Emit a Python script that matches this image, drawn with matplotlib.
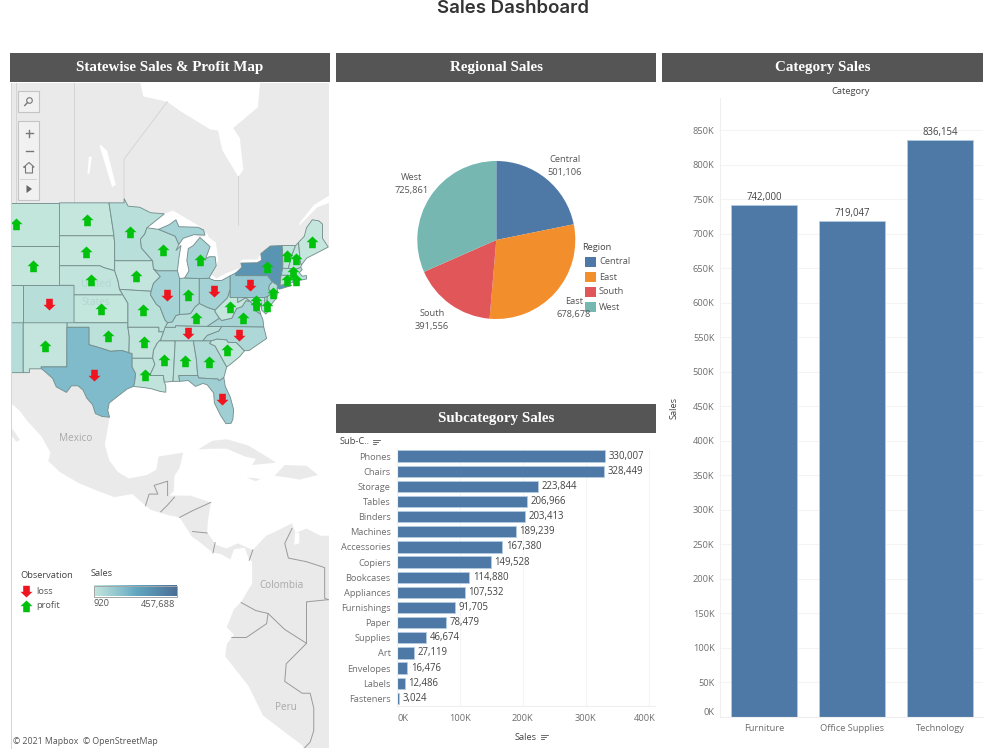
import numpy as np
import matplotlib
matplotlib.use('Agg')
import matplotlib.pyplot as plt
from matplotlib.colors import LinearSegmentedColormap
from matplotlib.patches import Rectangle, Polygon, Circle
from matplotlib.path import Path
from matplotlib.transforms import ScaledTranslation

plt.rcParams['font.family'] = ['Open Sans', 'DejaVu Sans']

# Datos de las barras y del pie
subcats = ['Phones', 'Chairs', 'Storage', 'Tables', 'Binders', 'Machines', 'Accessories', 'Copiers', 'Bookcases',
           'Appliances', 'Furnishings', 'Paper', 'Supplies', 'Art', 'Envelopes', 'Labels', 'Fasteners']
subcat_sales = [330007, 328449, 223844, 206966, 203413, 189239, 167380, 149528, 114880,
                107532, 91705, 78479, 46674, 27119, 16476, 12486, 3024]
categories = ['Furniture', 'Office Supplies', 'Technology']
category_sales = [742000, 719047, 836154]
regions = ['Central', 'East', 'South', 'West']
region_sales = [501106, 678678, 391556, 725861]
region_colors = ['#4e79a7', '#f28e2b', '#e15759', '#76b7b2']

# Ventas por estado, observacion y centro (lon, lat) de la flecha
state_sales = {'MT': 5589, 'ID': 4382, 'WY': 1603, 'UT': 11220, 'AZ': 35282, 'CO': 32108, 'NM': 4784, 'ND': 920,
               'SD': 1316, 'NE': 7465, 'KS': 2914, 'OK': 19683, 'TX': 170188, 'MN': 29863, 'IA': 4580, 'MO': 22205,
               'AR': 11678, 'LA': 9217, 'MS': 10771, 'AL': 19511, 'GA': 49096, 'FL': 89474, 'SC': 8482, 'NC': 55603,
               'TN': 30662, 'KY': 36592, 'VA': 70637, 'WV': 1210, 'OH': 78258, 'IN': 53555, 'IL': 80166, 'WI': 32115,
               'MI': 76270, 'MIU': 76270, 'PA': 116512, 'NY': 310876, 'NJ': 35764, 'DE': 27451, 'MD': 23706,
               'DC': 2865, 'CT': 13384, 'RI': 22628, 'MA': 28634, 'VT': 8929, 'NH': 7293, 'ME': 1271}
loss_lon = [-105.5, -89.2, -82.8, -77.8, -86.4, -79.3, -99.3, -81.6]
loss_lat = [39.0, 40.0, 40.4, 41.0, 35.85, 35.6, 31.0, 28.2]
profit_lon = [-110.05, -100.2, -94.4, -89.8, -100.4, -107.7, -99.7, -93.5, -84.7, -86.3, -98.4, -92.5, -80.6, -85.3,
              -78.8, -97.4, -92.4, -106.0, -89.7, -86.8, -83.4, -80.9, -92.3, -75.5, -72.7, -71.5, -71.9, -72.7,
              -71.5, -74.6, -76.9, -76.9, -75.4, -69.2]
profit_lat = [47.05, 47.45, 46.3, 44.6, 44.4, 43.0, 41.5, 42.0, 43.6, 40.0, 38.5, 38.4, 38.7, 37.5,
              37.5, 35.5, 34.9, 34.4, 32.8, 32.7, 32.6, 33.9, 31.0, 42.9, 44.0, 43.7, 42.4, 41.6,
              41.6, 40.2, 39.4, 38.9, 38.8, 45.3]

# Contornos de los estados (lon, lat)
state_shapes = {
    'MT': [(-116, 49), (-104.05, 49), (-104.05, 45), (-111.05, 45), (-111.05, 44.5), (-116, 44.5)],
    'ID': [(-117, 44.5), (-111.05, 44.5), (-111.05, 42), (-117, 42)],
    'WY': [(-111.05, 45), (-104.05, 45), (-104.05, 41), (-111.05, 41)],
    'UT': [(-114, 42), (-111.05, 42), (-111.05, 41), (-109.05, 41), (-109.05, 37), (-114, 37)],
    'AZ': [(-114.7, 37), (-109.05, 37), (-109.05, 31.33), (-111.07, 31.33), (-114.8, 32.5)],
    'CO': [(-109.05, 41), (-102.05, 41), (-102.05, 37), (-109.05, 37)],
    'NM': [(-109.05, 37), (-103, 37), (-103.04, 32), (-106.6, 32), (-106.5, 31.78), (-108.2, 31.78), (-108.2, 31.33),
           (-109.05, 31.33)],
    'ND': [(-104.05, 49), (-97.23, 49), (-96.55, 46), (-96.56, 45.94), (-104.05, 45.94)],
    'SD': [(-104.05, 45.94), (-96.56, 45.94), (-96.45, 45.3), (-96.45, 43.5), (-96.45, 42.5), (-97.9, 42.8),
           (-98.5, 43), (-104.05, 43)],
    'NE': [(-104.05, 43), (-98.5, 43), (-97.9, 42.8), (-96.45, 42.5), (-96, 41.5), (-95.77, 40.58), (-95.31, 40),
           (-102.05, 40), (-102.05, 41), (-104.05, 41)],
    'KS': [(-102.05, 40), (-95.31, 40), (-94.62, 39.1), (-94.62, 37), (-102.05, 37)],
    'OK': [(-103, 37), (-94.62, 37), (-94.62, 36.5), (-94.43, 35.4), (-94.48, 33.64), (-95.5, 33.9), (-97, 33.8),
           (-98.1, 34.1), (-100, 34.56), (-100, 36.5), (-103, 36.5)],
    'TX': [(-103.04, 36.5), (-100, 36.5), (-100, 34.56), (-98.1, 34.1), (-97, 33.8), (-95.5, 33.9), (-94.48, 33.64),
           (-94.04, 33.55), (-94.04, 33), (-94.04, 31.99), (-93.55, 31.2), (-93.7, 30.1), (-93.85, 29.7), (-94.7, 29.4),
           (-95.9, 28.6), (-97.2, 27.7), (-97.4, 26.8), (-97.15, 25.95), (-98.2, 26.05), (-99.1, 26.4), (-99.5, 27.5),
           (-100.3, 28.3), (-100.8, 29.25), (-101.5, 29.77), (-102.4, 29.77), (-103.1, 28.98), (-104.5, 29.65),
           (-105, 30.65), (-106.5, 31.78), (-106.6, 32), (-103.04, 32)],
    'MN': [(-97.23, 49), (-95.15, 49), (-95.15, 49.38), (-94.6, 48.7), (-93, 48.6), (-91.5, 48.1), (-89.6, 48),
           (-92, 46.7), (-92.3, 46.1), (-92.9, 45.6), (-92.75, 44.75), (-91.22, 43.5), (-96.45, 43.5), (-96.45, 45.3),
           (-96.56, 45.94), (-96.55, 46)],
    'IA': [(-96.45, 43.5), (-91.22, 43.5), (-91.1, 42.7), (-90.15, 41.9), (-91.1, 41.2), (-91.42, 40.38),
           (-95.77, 40.58), (-96, 41.5), (-96.45, 42.5)],
    'MO': [(-95.77, 40.58), (-91.42, 40.38), (-91.5, 40), (-90.7, 39), (-90.2, 38.7), (-89.5, 37.3), (-89.15, 37),
           (-89.7, 36), (-90.37, 35.99), (-90.37, 36.5), (-94.62, 36.5), (-94.62, 37), (-94.62, 39.1), (-95.31, 40)],
    'AR': [(-94.62, 36.5), (-90.37, 36.5), (-90.37, 35.99), (-89.7, 36), (-90.1, 35.1), (-90.6, 34.7), (-91.1, 33.9),
           (-91.2, 33), (-94.04, 33), (-94.04, 33.55), (-94.48, 33.64), (-94.43, 35.4)],
    'LA': [(-94.04, 33), (-91.2, 33), (-90.9, 32.3), (-91.6, 31), (-89.73, 31), (-89.6, 30.2), (-89.4, 29.8),
           (-89.4, 29.0), (-90.2, 29.1), (-91.3, 29.4), (-92.3, 29.55), (-93.85, 29.7), (-93.7, 30.1), (-93.55, 31.2),
           (-94.04, 31.99)],
    'MS': [(-90.3, 35), (-88.2, 35), (-88.1, 34.9), (-88.4, 30.3), (-89.6, 30.2), (-89.73, 31), (-91.6, 31),
           (-90.9, 32.3), (-91.2, 33), (-91.1, 33.9), (-90.6, 34.7)],
    'AL': [(-88.2, 35), (-85.6, 35), (-85.18, 32.87), (-85, 31), (-87.6, 31), (-87.5, 30.3), (-88.4, 30.3), (-88.1, 34.9)],
    'GA': [(-85.6, 35), (-83.1, 35), (-83.35, 34.7), (-82.6, 34.4), (-81.4, 32.6), (-81, 32), (-81.4, 30.75),
           (-82.05, 30.36), (-82.2, 30.57), (-84.86, 30.7), (-85, 31), (-85.18, 32.87)],
    'FL': [(-87.6, 31), (-85, 31), (-84.86, 30.7), (-82.2, 30.57), (-82.05, 30.36), (-81.4, 30.75), (-81.2, 29.7),
           (-80.5, 28.4), (-80.05, 26.9), (-80.15, 25.7), (-80.4, 25.2), (-81.1, 25.15), (-81.8, 26.1), (-82.7, 27.7),
           (-82.8, 28.9), (-83.7, 29.9), (-84.3, 30.05), (-85.3, 29.7), (-86.3, 30.4), (-87.5, 30.3)],
    'SC': [(-83.35, 34.7), (-83.1, 35), (-82.3, 35.2), (-81, 35.1), (-80.8, 34.82), (-79.67, 34.8), (-78.55, 33.86),
           (-79.2, 33.2), (-80.5, 32.3), (-81, 32), (-81.4, 32.6), (-82.6, 34.4)],
    'NC': [(-84.32, 35), (-83.1, 35), (-82.3, 35.2), (-81, 35.1), (-80.8, 34.82), (-79.67, 34.8), (-78.55, 33.86),
           (-77.9, 33.9), (-76.5, 34.7), (-75.5, 35.25), (-75.9, 36.55), (-81.68, 36.59), (-82.1, 36.1), (-83.7, 35.6)],
    'TN': [(-90.3, 35), (-88.2, 35), (-85.6, 35), (-84.32, 35), (-83.7, 35.6), (-82.1, 36.1), (-81.68, 36.59),
           (-83.68, 36.6), (-88.07, 36.68), (-88.07, 36.5), (-89.5, 36.5), (-89.7, 36), (-90.1, 35.1)],
    'KY': [(-89.5, 36.5), (-88.07, 36.5), (-88.07, 36.68), (-83.68, 36.6), (-82, 37.5), (-82.6, 38.2), (-82.6, 38.4),
           (-83.6, 38.65), (-84.8, 39.1), (-85.4, 38.7), (-86, 38), (-87.5, 37.9), (-88, 37.8), (-88.5, 37.1), (-89.15, 37)],
    'VA': [(-83.68, 36.6), (-81.68, 36.59), (-75.9, 36.55), (-76, 37.3), (-76.3, 37.9), (-77, 38.3), (-77.05, 38.85),
           (-77.5, 39.1), (-77.75, 39.3), (-78.35, 39.4), (-78.9, 38.75), (-79.65, 38.55), (-80.3, 37.5), (-81.7, 37.25),
           (-82, 37.5)],
    'WV': [(-82, 37.5), (-81.7, 37.25), (-80.3, 37.5), (-79.65, 38.55), (-78.9, 38.75), (-78.35, 39.4), (-77.75, 39.3),
           (-78.4, 39.7), (-79.48, 39.2), (-79.48, 39.72), (-80.52, 39.72), (-80.52, 40.64), (-80.9, 39.7), (-81.7, 39.1),
           (-82.6, 38.4), (-82.6, 38.2)],
    'OH': [(-84.8, 41.7), (-83.45, 41.73), (-82.7, 41.5), (-81.7, 41.5), (-80.52, 41.98), (-80.52, 40.64), (-80.9, 39.7),
           (-81.7, 39.1), (-82.6, 38.4), (-83.6, 38.65), (-84.8, 39.1)],
    'IN': [(-87.5, 41.7), (-86.8, 41.76), (-84.8, 41.7), (-84.8, 39.1), (-85.4, 38.7), (-86, 38), (-87.5, 37.9), (-87.5, 39.3)],
    'IL': [(-90.6, 42.5), (-87.8, 42.5), (-87.5, 41.7), (-87.5, 39.3), (-87.5, 37.9), (-88, 37.8), (-88.5, 37.1),
           (-89.15, 37), (-89.5, 37.3), (-90.2, 38.7), (-90.7, 39), (-91.5, 40), (-91.42, 40.38), (-91.1, 41.2),
           (-90.15, 41.9), (-91.1, 42.7)],
    'WI': [(-92, 46.7), (-90.4, 46.55), (-88.1, 45.9), (-87.6, 45.1), (-88, 44.5), (-87.3, 45), (-87.55, 44), (-87.8, 42.5),
           (-90.6, 42.5), (-91.1, 42.7), (-91.22, 43.5), (-92.75, 44.75), (-92.9, 45.6), (-92.3, 46.1)],
    'MI': [(-86.8, 41.76), (-84.8, 41.7), (-83.45, 41.73), (-83.1, 42.2), (-82.45, 43), (-82.6, 43.9), (-83.4, 43.9),
           (-83.9, 43.7), (-83.3, 44.9), (-84.7, 45.78), (-85.6, 45), (-86.3, 44.7), (-86.5, 43.5), (-86.2, 42.5)],
    'MIU': [(-90.4, 46.55), (-88.9, 47), (-88, 47.45), (-87.6, 46.8), (-85, 46.75), (-84.2, 46.5), (-84, 46), (-85.5, 46.05),
            (-87, 45.7), (-87.6, 45.1), (-88.1, 45.9)],
    'PA': [(-80.52, 41.98), (-79.76, 42.27), (-79.76, 42), (-75.35, 42), (-74.7, 41.36), (-75.13, 40.97), (-75.2, 40.6),
           (-74.75, 40.2), (-75.4, 39.8), (-75.79, 39.72), (-79.48, 39.72), (-80.52, 39.72), (-80.52, 40.64)],
    'NY': [(-79.76, 42.27), (-78.9, 42.85), (-79.05, 43.27), (-76.8, 43.3), (-76.2, 43.55), (-76.3, 44.2), (-75, 44.95),
           (-73.35, 45), (-73.25, 43.6), (-73.27, 42.75), (-73.5, 42.05), (-73.65, 41), (-72, 41), (-73.7, 40.6),
           (-74.05, 40.7), (-74, 41), (-74.7, 41.36), (-75.35, 42), (-79.76, 42)],
    'NJ': [(-74.7, 41.36), (-74, 41), (-74.05, 40.7), (-74, 40.4), (-74.1, 39.7), (-74.9, 38.95), (-75.5, 39.5),
           (-75.4, 39.8), (-74.75, 40.2), (-75.2, 40.6), (-75.13, 40.97)],
    'DE': [(-75.79, 39.72), (-75.4, 39.8), (-75.5, 39.4), (-75.05, 38.45), (-75.7, 38.46)],
    'MD': [(-79.48, 39.72), (-75.79, 39.72), (-75.7, 38.46), (-75.05, 38.45), (-75.6, 37.95), (-76.2, 38.4), (-76.2, 39.2),
           (-76.5, 38.5), (-76.3, 37.95), (-77, 38.3), (-77.05, 38.85), (-77.5, 39.1), (-77.75, 39.3), (-78.4, 39.7),
           (-79.48, 39.2)],
    'DC': [(-77.12, 38.93), (-77.04, 39), (-76.91, 38.89), (-77.04, 38.79)],
    'CT': [(-73.5, 42.05), (-71.8, 42.02), (-71.85, 41.32), (-73.65, 41)],
    'RI': [(-71.8, 42.02), (-71.38, 42.02), (-71.15, 41.5), (-71.85, 41.32)],
    'MA': [(-73.5, 42.05), (-73.27, 42.75), (-72.5, 42.73), (-71.3, 42.7), (-70.8, 42.85), (-70.6, 42.6), (-71, 42.3),
           (-70.6, 41.95), (-70, 42), (-70, 41.65), (-71.15, 41.5), (-71.38, 42.02), (-71.8, 42.02)],
    'VT': [(-73.35, 45), (-71.5, 45), (-72.05, 44), (-72.5, 42.73), (-73.27, 42.75), (-73.25, 43.6)],
    'NH': [(-71.5, 45), (-71.1, 45.3), (-70.85, 43.4), (-70.7, 43.07), (-70.8, 42.85), (-71.3, 42.7), (-72.5, 42.73), (-72.05, 44)],
    'ME': [(-71.1, 45.3), (-70.3, 45.9), (-70, 46.7), (-69.2, 47.45), (-68.3, 47.35), (-67.8, 47.05), (-67.8, 45.7),
           (-67, 44.85), (-68.5, 44.3), (-70, 43.75), (-70.7, 43.07), (-70.85, 43.4)],
}

# Tierra de fondo y agua (lon, lat)
mainland = [(-112, 60), (-66, 60), (-66, 45.2), (-67, 44.85), (-69, 45), (-72, 43), (-76, 40), (-79, 36), (-82, 32),
            (-81.5, 28), (-82, 29.5), (-83, 30.5), (-90, 31.5), (-96, 30), (-98, 27), (-97.15, 25.95), (-97.8, 22.5),
            (-97.2, 20.5), (-96, 19), (-94.5, 18.15), (-92, 18.6), (-90.7, 19.3), (-90.4, 21), (-87, 21.5), (-87.5, 19.5),
            (-88.2, 18.5), (-88.3, 16.5), (-88.9, 15.9), (-86, 15.9), (-83.2, 15), (-83.6, 12.5), (-83.7, 11), (-82.5, 9.3),
            (-81, 8.8), (-79.5, 9.5), (-77.4, 8.6), (-75.6, 10.5), (-74.5, 11), (-72, 12.2), (-71.5, 10.9), (-70, 11.5),
            (-68, 10.5), (-66, 10.6), (-66, -19), (-70.3, -19), (-70.5, -18), (-76, -14), (-78, -10), (-81.2, -6),
            (-81, -4.3), (-80, -3), (-81, -2), (-80, 0.5), (-79, 1.5), (-77.5, 4), (-77.5, 7), (-78, 7.5), (-78.5, 8.9),
            (-80, 8.7), (-80.5, 7.3), (-81.7, 8), (-83, 8.3), (-84.9, 9.8), (-85.8, 10.4), (-87.5, 13), (-89, 13.3),
            (-91.5, 14), (-94, 16.1), (-96.5, 15.7), (-99, 16.6), (-101.5, 17.6), (-104, 19), (-105.6, 20.4), (-105.3, 21.5),
            (-106.5, 23.5), (-108.5, 25.5), (-109.5, 26.7), (-111, 27.9), (-112, 29), (-113, 60)]
islands = [[(-110.3, 24.2), (-109.5, 23.1), (-110, 22.9), (-111.5, 24.5), (-111.5, 25.5)],
           [(-84.9, 21.9), (-83, 23), (-81, 23.2), (-78, 22.4), (-75, 20.7), (-74.2, 20.2), (-77.5, 19.9), (-77, 20.7),
            (-78.5, 21), (-81, 22), (-83, 22)],
           [(-74.4, 18.5), (-73, 19.9), (-70, 19.8), (-68.4, 18.6), (-71, 18), (-72, 18.2)],
           [(-78.3, 18.3), (-76.3, 18.1), (-77, 17.8)]]
# Lagos: del lado de EE.UU. van en blanco, del lado de Canada quedan como tierra
white_lakes = [[(-87.8, 42.5), (-87.5, 41.7), (-86.8, 41.76), (-86.2, 42.5), (-86.5, 43.5), (-86.3, 44.7), (-85.6, 45),
                (-84.7, 45.78), (-85.5, 46.05), (-87, 45.7), (-87.6, 45.1), (-87.3, 45), (-87.55, 44)],
               [(-92, 46.7), (-89.6, 48), (-88.4, 48.3), (-84.9, 46.9), (-84.5, 46.45), (-85, 46.75), (-87.6, 46.8),
                (-88, 47.45), (-88.9, 47), (-90.4, 46.55)],
               [(-84.5, 46.45), (-83.6, 46.1), (-83.5, 45.8), (-82.5, 45.3), (-82.15, 43.6), (-82.45, 43), (-82.6, 43.9),
                (-83.4, 43.9), (-83.9, 43.7), (-83.3, 44.9), (-84.7, 45.78), (-84, 46)],
               [(-83.45, 41.73), (-82.7, 41.5), (-81.7, 41.5), (-80.52, 41.98), (-79.76, 42.27), (-78.9, 42.85), (-81.2, 42.2),
                (-82.4, 41.7), (-83.1, 42.1)],
               [(-79.05, 43.27), (-79.2, 43.45), (-78.7, 43.63), (-76.8, 43.63), (-76.3, 44.2), (-76.2, 43.55), (-76.8, 43.3)],
               [(-92.9, 58.67), (-93, 60), (-76.4, 60), (-76.4, 58.67), (-76.7, 56.9), (-80.1, 55.3), (-79.2, 54.5), (-78.7, 51.9),
                (-79.4, 51.3), (-81.6, 53.5), (-82.2, 55.1), (-83.3, 55.2), (-87.4, 56.6), (-89.2, 57.3), (-92.5, 57.7)],
               [(-98.5, 53.8), (-96.8, 50.4), (-96.3, 50.6), (-97.5, 53.5), (-98.5, 54)],
               [(-100.2, 51.5), (-99.9, 51.6), (-99.6, 53), (-100, 53)],
               [(-71, 46.9), (-68.5, 48.6), (-66, 49.2), (-66, 50), (-69, 48.8), (-71, 47.1)],
               [(-71.6, 10.9), (-71, 10.9), (-71, 9.5), (-71.7, 9.3)]]
light_borders = [[(-110, 49), (-110, 60)], [(-102, 49), (-102, 60)], [(-95.15, 49.38), (-95.15, 52.8), (-89.2, 57.3)],
                 [(-79.5, 47), (-79.5, 51.4)]]
dark_borders = [[(-92.2, 14.55), (-91.7, 16.1), (-90.5, 16.1), (-91, 17.25), (-89.15, 17.8), (-89.15, 15.9)],
                [(-88.2, 15.7), (-89.2, 14.6), (-90.1, 13.75)], [(-87.5, 13), (-85.7, 13.9), (-83.2, 15)],
                [(-85.7, 11.1), (-83.7, 10.9)], [(-82.9, 8.2), (-82.6, 9.6)], [(-77.4, 8.6), (-77.9, 7.2)],
                [(-72, 11.5), (-73, 9.5), (-72.5, 7.5), (-70, 7), (-67.5, 6.2), (-67.5, 2), (-67, 1.8)],
                [(-79, 1.4), (-77, 0.3), (-75.3, -0.1), (-75.5, -1.5), (-78.3, -3.4), (-80.3, -3.4)],
                [(-75.3, -0.1), (-73, -2.3), (-70, -4.2), (-72.8, -7), (-73, -9.4), (-70.6, -11), (-69.5, -11), (-69, -13),
                 (-69, -16), (-69.5, -17.5), (-70.3, -18.3)],
                [(-70, -4.2), (-70, 1.5), (-67, 1.8)]]

BLUE = '#4e79a7'
EDGE = '#b4cce2'
TICK = '#6e6e6e'
GRID = '#f4f4f4'
LAND = '#eaeaea'

cmap = LinearSegmentedColormap.from_list('sales', [(0, '#c4e6dd'), (0.37, '#80bbcb'), (0.5, '#62a8c1'), (1, '#4a6f97')])

fig = plt.figure(figsize=(10, 7.5), dpi=100)


def px_axes(left, top, right, bottom):
    return fig.add_axes([left / 1000, 1 - bottom / 750, (right - left) / 1000, (bottom - top) / 750])


def merc(lat):
    return np.log(np.tan(np.pi / 4 + np.radians(lat) / 2))


def merc_inv(y):
    return np.degrees(2 * np.arctan(np.exp(y)) - np.pi / 2)


arrow_up = Path([(0, 1), (1, 0.05), (0.55, 0.05), (0.55, -0.95), (-0.55, -0.95), (-0.55, 0.05), (-1, 0.05), (0, 1)])
arrow_down = Path(arrow_up.vertices * [1, -1])

# Mapa
ax_map = px_axes(10.7, 83, 329, 748)
ax_map.set_yscale('function', functions=(merc, merc_inv))
ax_map.set_xlim(-110.78, -66.9)
ax_map.set_ylim(-18.28, 58.67)
ax_map.set_axis_off()
for shape in [mainland] + islands:
    ax_map.add_patch(Polygon(shape, facecolor=LAND, edgecolor='none', zorder=1))
for shape in white_lakes:
    ax_map.add_patch(Polygon(shape, facecolor='white', edgecolor='none', zorder=2))
for line in light_borders:
    ax_map.plot(*zip(*line), color='#d2d2d2', lw=0.6, zorder=2)
for line in dark_borders:
    ax_map.plot(*zip(*line), color='#9a9a9a', lw=0.7, zorder=2)
for st, shape in state_shapes.items():
    ax_map.add_patch(Polygon(shape, facecolor=cmap(state_sales[st] / 457688), edgecolor='#76908f',
                             linewidth=0.65, zorder=3))
ax_map.scatter(profit_lon, profit_lat, marker=arrow_up, s=75, color='#00c20c', linewidths=0, zorder=5)
ax_map.scatter(loss_lon, loss_lat, marker=arrow_down, s=75, color='#ee1520', linewidths=0, zorder=5)
ax_map.text(-101.8, 23.3, 'Mexico', color='#a9a9a9', fontsize=7.2, ha='center', va='center', zorder=4)
ax_map.text(-73.4, 3.8, 'Colombia', color='#a9a9a9', fontsize=7.2, ha='center', va='center', zorder=4)
ax_map.text(-72.8, -12.9, 'Peru', color='#a9a9a9', fontsize=7.2, ha='center', va='center', zorder=4)
ax_map.text(-99, 41.1, 'United', color='#b2d7d1', fontsize=7.2, ha='center', va='center', zorder=4)
ax_map.text(-99, 39.2, 'States', color='#b2d7d1', fontsize=7.2, ha='center', va='center', zorder=4)

# Pie
ax_pie = px_axes(496.3 - 86.9, 240 - 86.9, 496.3 + 86.9, 240 + 86.9)
ax_pie.pie(region_sales, colors=region_colors, startangle=90, counterclock=False, radius=1)
ax_pie.set_xlim(-1.1, 1.1)
ax_pie.set_ylim(-1.1, 1.1)

# Barras por subcategoria
ax_sub = px_axes(397, 448.5, 655, 705.9)
ax_sub.barh(subcats, subcat_sales, height=0.75, color=BLUE, edgecolor=EDGE, linewidth=0.6)
ax_sub.set_ylim(16.5, -0.5)
ax_sub.set_xlim(0, 410000)
ax_sub.set_xticks([0, 100000, 200000, 300000, 400000])
ax_sub.set_xticklabels(['0K', '100K', '200K', '300K', '400K'])
ax_sub.xaxis.get_ticklabels()[0].set_ha('left')
ax_sub.tick_params(axis='both', length=0, labelsize=6.7, labelcolor=TICK)
ax_sub.tick_params(axis='x', pad=6)
ax_sub.tick_params(axis='y', pad=4.5)
last = ax_sub.xaxis.get_ticklabels()[-1]
last.set_transform(last.get_transform() + ScaledTranslation(-3 / 72, 0, fig.dpi_scale_trans))
ax_sub.grid(axis='x', color=GRID, lw=0.8)
ax_sub.set_axisbelow(True)
for i, v in enumerate(subcat_sales):
    ax_sub.annotate(f'{v:,}', (v, i), xytext=(2.5, 0), textcoords='offset points', va='center', fontsize=6.9, color='#444444')

# Barras por categoria
ax_cat = px_axes(720, 98, 983, 716.7)
ax_cat.bar(categories, category_sales, width=0.753, color=BLUE, edgecolor=EDGE, linewidth=0.6)
ax_cat.set_xlim(-0.5, 2.49)
ax_cat.set_ylim(0, 897000)
cat_ticks = np.arange(0, 850001, 50000)
ax_cat.set_yticks(cat_ticks)
ax_cat.set_yticklabels([f'{int(t / 1000)}K' for t in cat_ticks])
ax_cat.yaxis.get_ticklabels()[0].set_va('bottom')
ax_cat.tick_params(axis='both', length=0, labelsize=6.7, labelcolor=TICK)
ax_cat.tick_params(axis='x', pad=5.5)
ax_cat.tick_params(axis='y', pad=4)
ax_cat.grid(axis='y', color=GRID, lw=0.8)
ax_cat.set_axisbelow(True)
for i, v in enumerate(category_sales):
    ax_cat.annotate(f'{v:,}', (i, v), xytext=(0, 1.5), textcoords='offset points', ha='center', va='bottom', fontsize=6.9, color='#444444')

for a in (ax_sub, ax_cat):
    for side in ('top', 'right'):
        a.spines[side].set_visible(False)
    a.spines['left'].set_color('#efefef')
    a.spines['bottom'].set_color('#efefef')

# Capa en pixeles: cabeceras, leyendas, controles
ov = fig.add_axes([0, 0, 1, 1], zorder=10)
ov.set_xlim(0, 1000)
ov.set_ylim(750, 0)
ov.patch.set_alpha(0)
ov.set_axis_off()


def label(x, y, s, size=6.7, color='#555555', ha='left', **kw):
    ov.text(x, y, s, fontsize=size, color=color, ha=ha, va='center', **kw)


ov.text(513, 8.5, 'Sales Dashboard', family='Inter', fontsize=13.4, fontweight='semibold', color='#333333', ha='center', va='center')
headers = [(10, 329.5, 53, 'Statewise Sales & Profit Map'), (336, 656, 53, 'Regional Sales'),
           (662, 983, 53, 'Category Sales'), (336, 656, 404, 'Subcategory Sales')]
for x0, x1, y0, title in headers:
    ov.add_patch(Rectangle((x0, y0), x1 - x0, 29, facecolor='#555555', edgecolor='none'))
    ov.text((x0 + x1) / 2, y0 + 14.5, title, family='Liberation Serif', fontweight='bold', fontsize=10.8,
            color='white', ha='center', va='center')

ov.plot([10.7, 10.7], [83, 748], color='#d4d4d4', lw=0.7)

# Controles del mapa
for box in [(17.5, 91, 21.5, 20.5), (17.5, 121, 21.5, 79)]:
    ov.add_patch(Rectangle(box[:2], box[2], box[3], facecolor='#f1f1f1', edgecolor='#c4c4c4', lw=0.8))
ov.add_patch(Circle((29.5, 100.5), 2.8, facecolor='none', edgecolor='#777777', lw=0.8))
ov.plot([27.5, 24.8], [102.5, 105.5], color='#777777', lw=1)
ov.plot([25.5, 32.5], [133, 133], color='#777777', lw=1)
ov.plot([29, 29], [129.5, 136.5], color='#777777', lw=1)
ov.plot([25.5, 32.5], [150.5, 150.5], color='#777777', lw=1)
ov.plot([24, 29, 34, 32.5, 32.5, 25.5, 25.5, 24], [167, 162.5, 167, 167, 173, 173, 167, 167], color='#777777', lw=0.8)
ov.plot([20, 36], [178.5, 178.5], color='#d4d4d4', lw=0.7)
ov.add_patch(Polygon([(26.5, 185), (26.5, 193), (32, 189)], facecolor='#666666', edgecolor='none'))

# Leyenda del mapa
label(20, 576, 'Observation', color='#444444')
label(36, 591, 'loss')
label(36, 606, 'profit')
ov.scatter([26], [591], marker=arrow_down, s=75, color='#ee1520', linewidths=0)
ov.scatter([26], [606], marker=arrow_up, s=75, color='#00c20c', linewidths=0)
label(90.5, 574, 'Sales', color='#444444')
ov.imshow(np.linspace(0, 1, 256).reshape(1, -1), cmap=cmap, extent=(94, 176.5, 596.5, 586), aspect='auto')
ov.set_xlim(0, 1000)
ov.set_ylim(750, 0)
ov.add_patch(Rectangle((94, 586), 82.5, 10.5, facecolor='none', edgecolor='#a5a5a5', lw=0.7))
label(93, 604, '920')
label(175, 604, '457,688', ha='right')
label(13, 741, '© 2021 Mapbox  © OpenStreetMap', size=6.3, color='#555555')

# Etiquetas del pie
label(565, 159, 'Central', ha='center')
label(565, 172, f'{region_sales[0]:,}', ha='center')
label(574.5, 301.5, 'East', ha='center')
label(574, 315, f'{region_sales[1]:,}', ha='center')
label(432, 314, 'South', ha='center')
label(432, 327, f'{region_sales[2]:,}', ha='center')
label(412, 177, 'West', ha='center')
label(412, 190, f'{region_sales[3]:,}', ha='center')
label(582.5, 247, 'Region', color='#444444')
for i, (reg, col) in enumerate(zip(regions, region_colors)):
    ov.add_patch(Rectangle((585, 256.5 + 15 * i), 11, 10.8, facecolor=col, edgecolor='none'))
    label(599, 262 + 15 * i, reg)

# Titulos de ejes e icono de orden
label(340, 442, 'Sub-C..', color='#444444')
label(526, 737, 'Sales', color='#444444', ha='center')
label(851, 91, 'Category', color='#444444', ha='center')
ov.text(674, 408, 'Sales', fontsize=6.7, color='#444444', rotation=90, ha='center', va='center')
for sx, sy in [(373, 439.5), (541, 735)]:
    for i, w in enumerate([7, 5, 3]):
        ov.plot([sx, sx + w], [sy + 2 * i, sy + 2 * i], color='#555555', lw=0.6)

fig.savefig('out.png', dpi=100)
